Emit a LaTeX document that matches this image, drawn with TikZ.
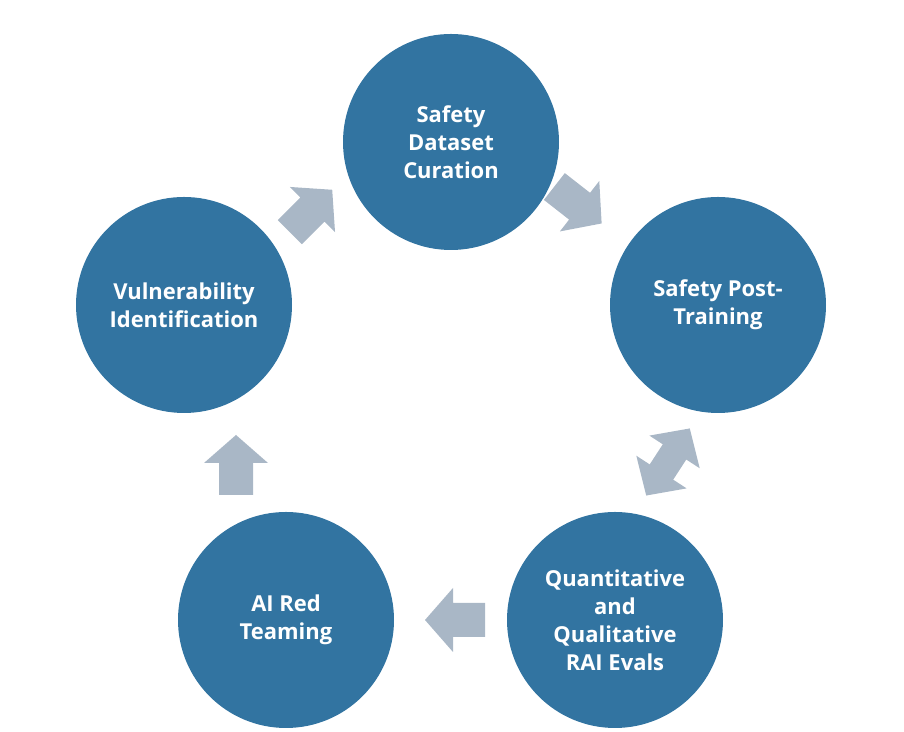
\documentclass[tikz,border=0pt]{standalone}
\usepackage{fontspec}
\setmainfont{Open Sans}
\definecolor{circ}{HTML}{3274A1}
\definecolor{arr}{HTML}{A9B7C6}
\tikzset{
  stage/.style={circle,fill=circ,minimum size=216*0.02cm,inner sep=0pt,text=white,align=center,font=\fontsize{12.5}{16}\selectfont\bfseries},
  arrowshape/.style={fill=arr,draw=none}
}
\newcommand{\singlearrow}[3]{%
  \begin{scope}[shift={(#1,#2)},rotate=#3]
    \fill[arrowshape] (-30,-17) -- (2,-17) -- (2,-32) -- (30,0) -- (2,32) -- (2,17) -- (-30,17) -- cycle;
  \end{scope}}
\newcommand{\doublearrow}[3]{%
  \begin{scope}[shift={(#1,#2)},rotate=#3]
    \fill[arrowshape] (-40,0) -- (-12,-30) -- (-12,-14) -- (12,-14) -- (12,-30) -- (40,0) -- (12,30) -- (12,14) -- (-12,14) -- (-12,30) -- cycle;
  \end{scope}}
\begin{document}
\begin{tikzpicture}[x=0.02cm,y=0.02cm]
\useasboundingbox (0,0) rectangle (904,732);
\node[stage] (top) at (451,590) {Safety\\Dataset\\Curation};
\node[stage] (right) at (718,427) {Safety Post-\\Training};
\node[stage] (br) at (615,112) {Quantitative\\and\\Qualitative\\RAI Evals};
\node[stage] (bl) at (286,112) {AI Red\\Teaming};
\node[stage] (left) at (184,427) {Vulnerability\\Identification};
\singlearrow{311}{521}{45}
\singlearrow{578}{527}{-38}
\doublearrow{668}{270}{57}
\singlearrow{455}{112}{180}
\singlearrow{236}{267}{90}
\end{tikzpicture}
\end{document}
